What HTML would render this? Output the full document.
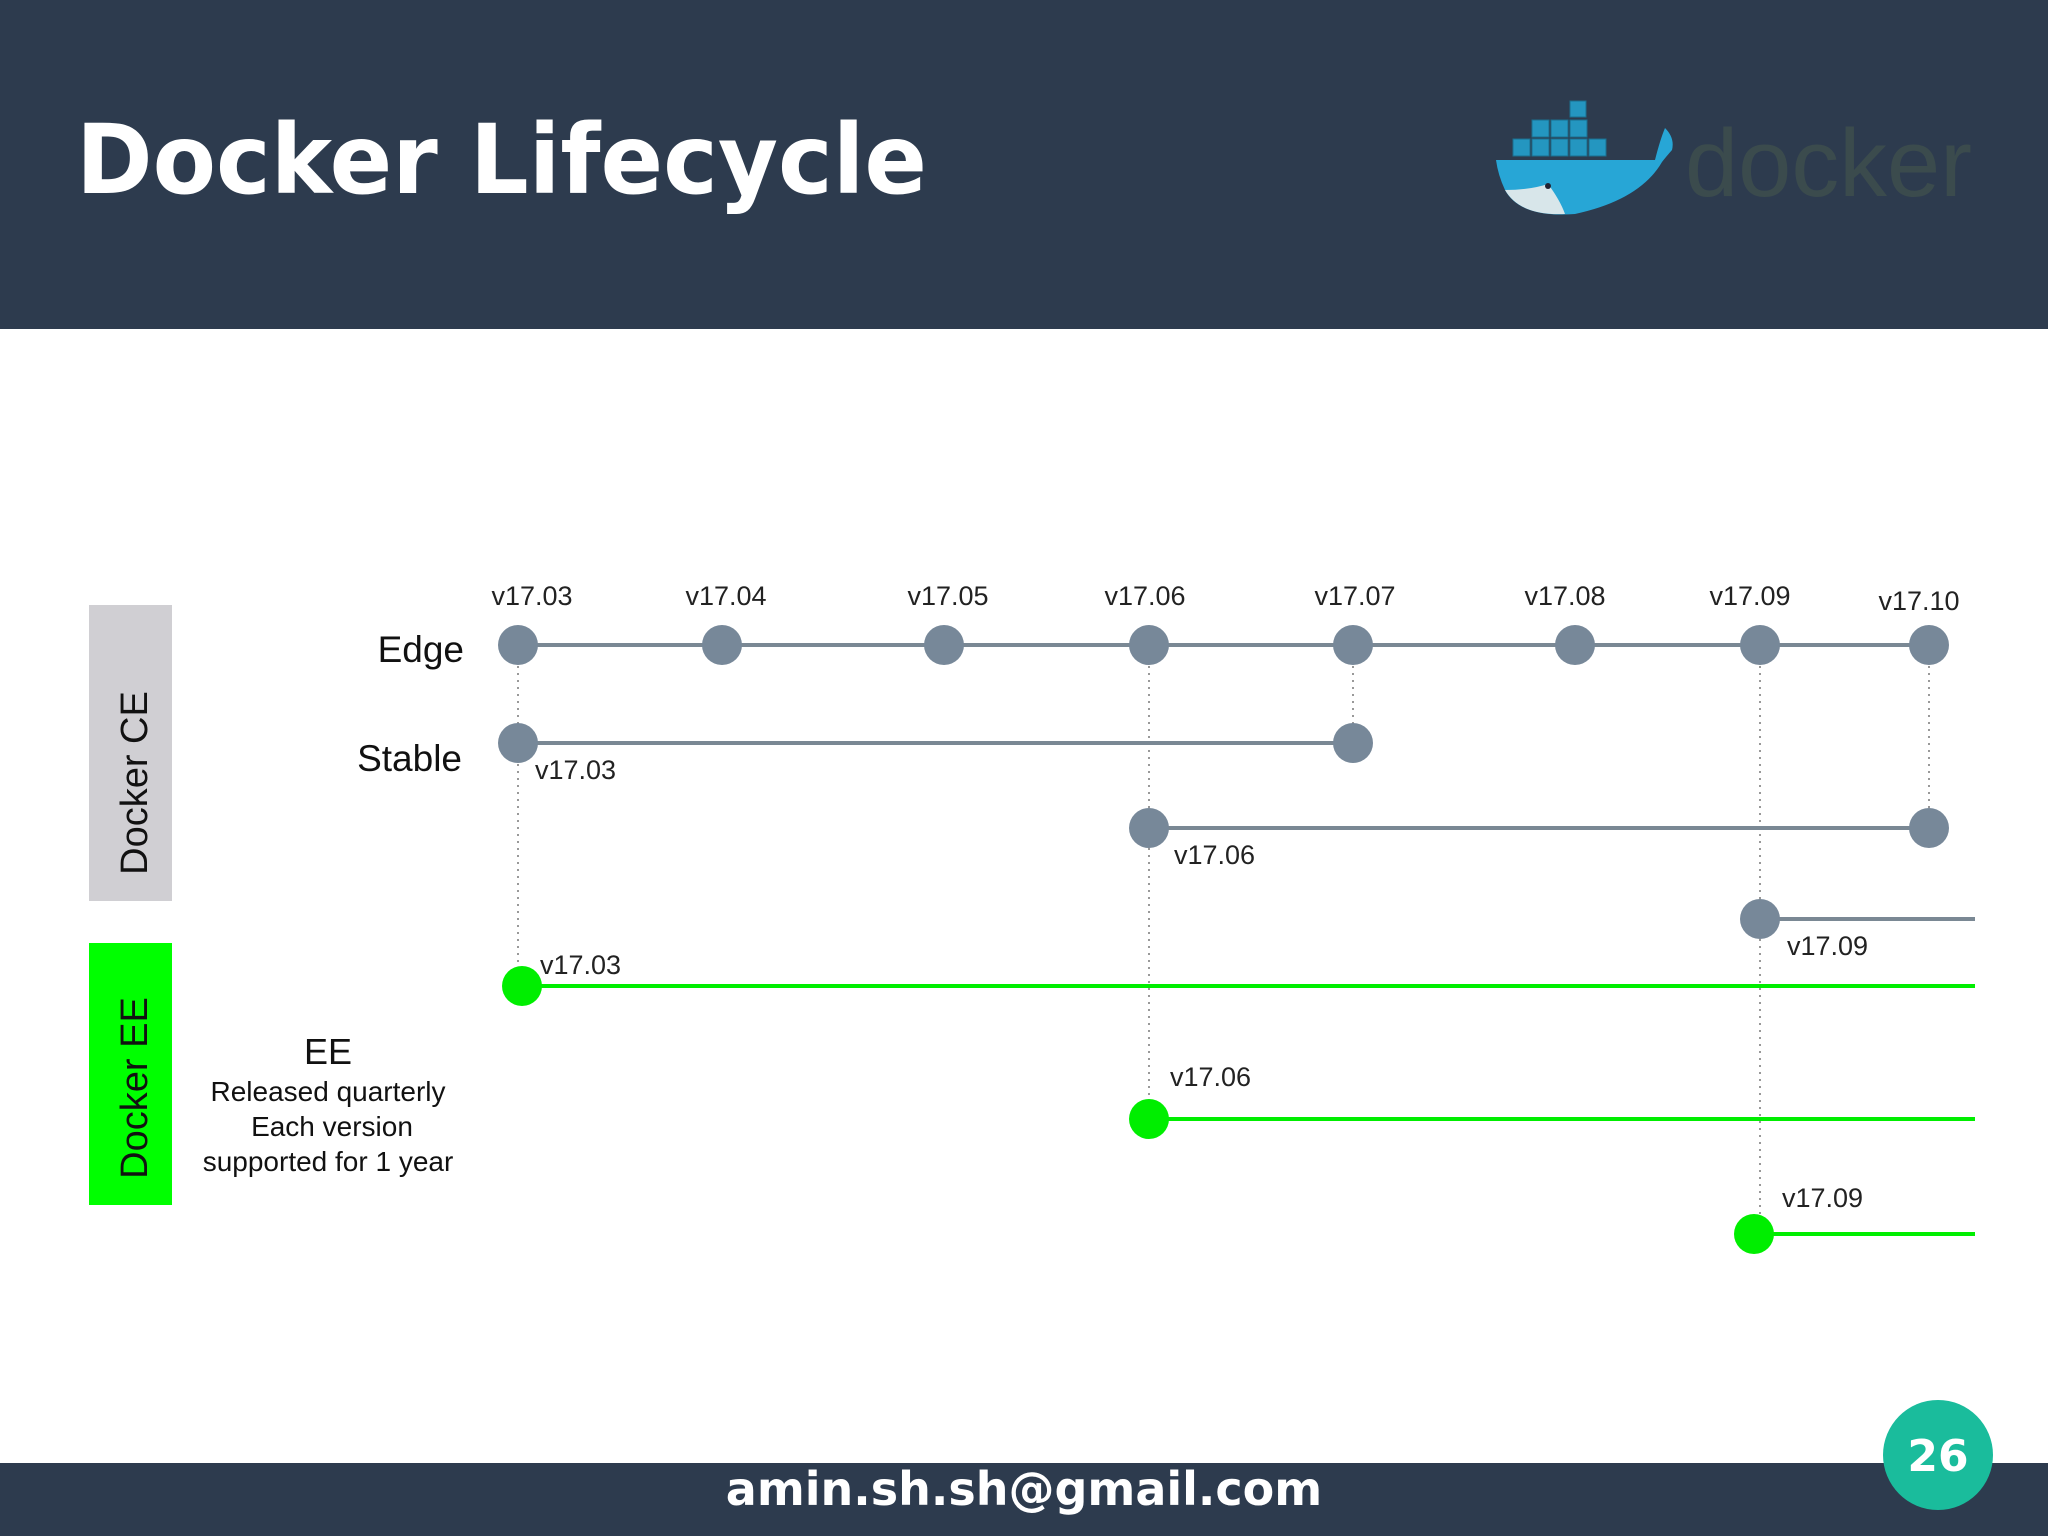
<!DOCTYPE html>
<html><head><meta charset="utf-8"><style>
html,body{margin:0;padding:0;background:#fff}
svg{display:block}
</style></head><body>
<svg id="s" width="2048" height="1536" viewBox="0 0 2048 1536" xmlns="http://www.w3.org/2000/svg" font-family="'Liberation Sans', sans-serif">
<rect x="0" y="0" width="2048" height="329" fill="#2d3b4e"/>
<text x="76" y="193" fill="#fff" font-family="'DejaVu Sans', sans-serif" font-weight="bold" font-size="96" textLength="851" lengthAdjust="spacingAndGlyphs">Docker Lifecycle</text>
<g>
  <g fill="#2496c0" stroke="#1a6f8f" stroke-width="1">
    <rect x="1570" y="101" width="16" height="16"/>
    <rect x="1532" y="120" width="17" height="17"/><rect x="1551" y="120" width="17" height="17"/><rect x="1570" y="120" width="17" height="17"/>
    <rect x="1513" y="139" width="17" height="17"/><rect x="1532" y="139" width="17" height="17"/><rect x="1551" y="139" width="17" height="17"/><rect x="1570" y="139" width="17" height="17"/><rect x="1589" y="139" width="17" height="17"/>
  </g>
  <path d="M1496 160 L1655 160 Q1660 140 1665 128 Q1675 138 1672 150 Q1665 158 1662 162 Q1640 200 1575 214 Q1520 218 1505 190 Q1498 175 1496 160 Z" fill="#27a6d6"/>
  <path d="M1505 190 Q1530 190 1548 184 Q1560 200 1565 214 Q1520 216 1505 190 Z" fill="#d8e6ea"/>
  <circle cx="1548" cy="186" r="3" fill="#223"/>
  <text x="1685" y="196" fill="#3b4b4d" font-size="96" textLength="287" lengthAdjust="spacingAndGlyphs">docker</text>
</g>
<rect x="89" y="605" width="83" height="296" fill="#d0cfd3"/>
<text transform="translate(147,783) rotate(-90)" text-anchor="middle" font-size="38" fill="#111">Docker CE</text>
<rect x="89" y="943" width="83" height="262" fill="#00ff00"/>
<text transform="translate(147,1088) rotate(-90)" text-anchor="middle" font-size="38" fill="#111">Docker EE</text>
<text x="464" y="662" text-anchor="end" font-size="37" fill="#111">Edge</text>
<text x="462" y="771" text-anchor="end" font-size="37" fill="#111">Stable</text>
<g fill="#111" text-anchor="middle">
  <text x="328" y="1064" font-size="36">EE</text>
  <text x="328" y="1101" font-size="28">Released quarterly</text>
  <text x="332" y="1136" font-size="28">Each version</text>
  <text x="328" y="1171" font-size="28">supported for 1 year</text>
</g>
<g id="chart"></g>
<rect x="0" y="1463" width="2048" height="73" fill="#2d3b4e"/>
<text x="1024" y="1505" text-anchor="middle" fill="#fff" font-family="'DejaVu Sans', sans-serif" font-weight="bold" font-size="46">amin.sh.sh@gmail.com</text>
<circle cx="1938" cy="1455" r="55" fill="#1abc9c"/>
<text x="1938" y="1471" text-anchor="middle" fill="#fff" font-family="'DejaVu Sans', sans-serif" font-weight="bold" font-size="44">26</text>
</svg>
<script>
// data
const edgeVersions = ["v17.03","v17.04","v17.05","v17.06","v17.07","v17.08","v17.09","v17.10"];
const edgeIndex = [0,1,2,3,4,5,6,7];
const stableStart = ["v17.03","v17.06","v17.09"];
const stableEnd = ["v17.07","v17.10",null];
const eeStart = ["v17.03","v17.06","v17.09"];

// axis: version -> x
const xPos = [518,722,944,1149,1353,1575,1760,1929];
function x(v){ return xPos[edgeVersions.indexOf(v)]; }
const X_END = 1975;
const EDGE_Y = 645;
function stableY(i){ return [743,828,919][i]; }
function eeY(i){ return [986,1119,1234][i]; }
function labelDx(i){ return [14,4,4,-4,2,-10,-10,-10][i]; }

const NS="http://www.w3.org/2000/svg";
const g=document.getElementById('chart');
function mk(tag,attrs){const e=document.createElementNS(NS,tag);for(const k in attrs)e.setAttribute(k,attrs[k]);g.appendChild(e);return e;}
const GRAY="#778899", LINE="#7a8894", GREEN="#00ee00";

stableStart.forEach((v,i)=>{
  const d=mk('line',{x1:x(v),y1:EDGE_Y,x2:x(v),y2:eeY(i),stroke:"#999","stroke-width":2,"stroke-dasharray":"2,5"});
  
  
});
stableEnd.forEach((v,i)=>{ if(!v)return;
  const d=mk('line',{x1:x(v),y1:EDGE_Y,x2:x(v),y2:stableY(i),stroke:"#999","stroke-width":2,"stroke-dasharray":"2,5"});
  
  
});

const el=mk('line',{x1:x(edgeVersions[0]),y1:EDGE_Y,x2:x(edgeVersions[edgeVersions.length-1]),y2:EDGE_Y,stroke:LINE,"stroke-width":4});


edgeIndex.forEach(i=>{
  const v=edgeVersions[i];
  const c=mk('circle',{cx:x(v),cy:EDGE_Y,r:20,fill:GRAY});
  
  
  const t=mk('text',{x:x(v)+labelDx(i),y:EDGE_Y-40+(i==7?5:0),"text-anchor":"middle","font-size":27,fill:"#222"});
  t.textContent=v;
  
  
});

stableStart.forEach((v,i)=>{
  const y=stableY(i), x1=x(v), x2=stableEnd[i]?x(stableEnd[i]):X_END;
  const l=mk('line',{x1:x1,y1:y,x2:x2,y2:y,stroke:LINE,"stroke-width":4});
  
  
  const c=mk('circle',{cx:x1,cy:y,r:20,fill:GRAY});
  
  
  if(stableEnd[i]){
    const c2=mk('circle',{cx:x2,cy:y,r:20,fill:GRAY});
    
    
  }
  const t=mk('text',{x:x1+(i==0?17:(i==1?25:27)),y:y+36,"font-size":27,fill:"#222"});
  t.textContent=v;
  
  
});

eeStart.forEach((v,i)=>{
  const y=eeY(i), x1=x(v)+(i==0?4:(i==2?-6:0));
  const l=mk('line',{x1:x1,y1:y,x2:X_END,y2:y,stroke:GREEN,"stroke-width":4});
  
  
  const c=mk('circle',{cx:x1,cy:y,r:20,fill:GREEN});
  
  
  const t=mk('text',{x:x1+(i==0?18:(i==1?21:28)),y:y-(i==0?12:(i==1?33:27)),"font-size":27,fill:"#222"});
  t.textContent=v;
  
  
});
</script>
</body></html>
